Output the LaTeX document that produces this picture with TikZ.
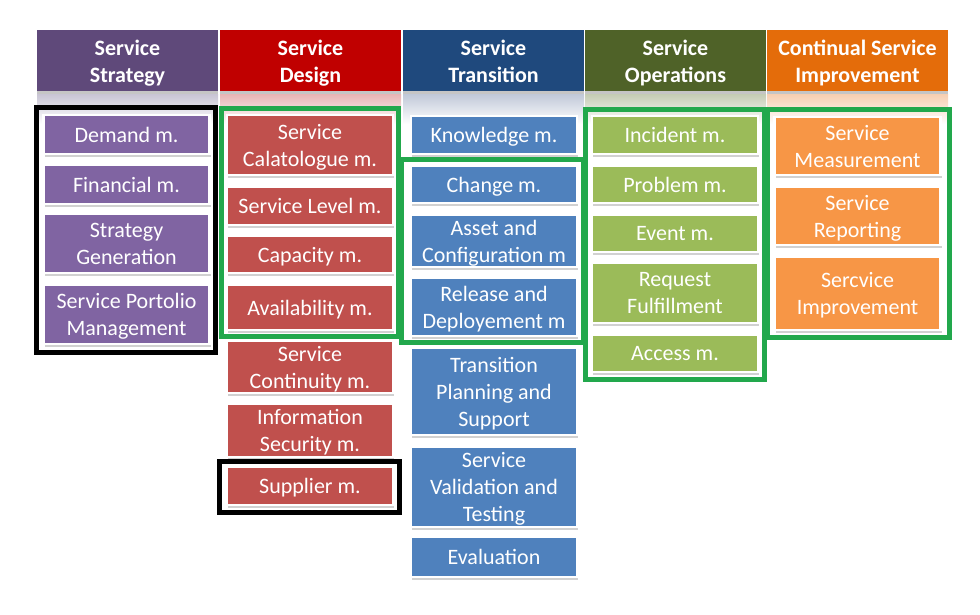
\documentclass[tikz,border=0pt]{standalone}
\usepackage{fontspec}
\setmainfont{Carlito}
\usetikzlibrary{shadows}
\definecolor{hS}{RGB}{95,73,122}
\definecolor{hD}{RGB}{192,0,0}
\definecolor{hT}{RGB}{31,73,125}
\definecolor{hO}{RGB}{79,98,40}
\definecolor{hC}{RGB}{228,108,10}
\definecolor{bS}{RGB}{128,100,162}
\definecolor{bD}{RGB}{192,80,77}
\definecolor{bT}{RGB}{79,129,189}
\definecolor{bO}{RGB}{155,187,89}
\definecolor{bC}{RGB}{247,150,70}
\definecolor{tS}{RGB}{200,196,212}
\definecolor{tD}{RGB}{232,180,180}
\definecolor{tT}{RGB}{192,200,216}
\definecolor{tO}{RGB}{196,204,180}
\definecolor{tC}{RGB}{246,206,176}
\definecolor{grn}{RGB}{34,168,76}
\tikzset{
  hdr/.style={fill=#1, draw=none, minimum width=181pt, minimum height=61pt, inner sep=0pt,
    text=white, align=center, font=\fontsize{22}{27}\selectfont\bfseries,
    drop shadow={shadow xshift=0pt, shadow yshift=-3pt, fill=black!45, opacity=0.5}},
  htxt/.style={text=white, align=center, font=\fontsize{22}{27}\selectfont\bfseries,
    inner sep=0pt, text depth=5pt},
  bx/.style={fill=#1, draw=white, line width=2.5pt, minimum width=166pt, inner sep=0pt,
    text=white, align=center, font=\fontsize{22}{27}\selectfont, text depth=0pt,
    drop shadow={shadow xshift=1pt, shadow yshift=-2.5pt, fill=black!40, opacity=0.45}},
  gframe/.style={draw=grn, line width=5pt},
  kframe/.style={draw=black, line width=5pt},
}
\begin{document}
\begin{tikzpicture}[x=1pt,y=-1pt]
\useasboundingbox (0,0) rectangle (980,614);
\fill[white] (0,0) rectangle (980,614);
% column tint bands
\foreach \xa/\c in {37/tS,220/tD,403/tT,585/tO,767/tC}{
  \shade[top color=\c, bottom color=white] (\xa,94) rectangle ++(181,30);
}
% headers
\node[hdr=hS] (hs) at (127.5,60.5) {};
\node[hdr=hD] (hd) at (310.5,60.5) {};
\node[hdr=hT] (ht) at (493.5,60.5) {};
\node[hdr=hO] (ho) at (675.5,60.5) {};
\node[hdr=hC] (hc) at (857.5,60.5) {};
\node[htxt] (hst) at ([yshift=-3.5pt]hs.center) {Service\\Strategy};
\node[htxt] (hdt) at ([yshift=-3.5pt]hd.center) {Service\\Design};
\node[htxt] (htt) at ([yshift=-3.5pt]ht.center) {Service\\Transition};
\node[htxt] (hot) at ([yshift=-3.5pt]ho.center) {Service\\Operations};
\node[htxt] (hct) at ([yshift=-3.5pt]hc.center) {Continual Service\\Improvement};
% strategy
\node[bx=bS, minimum height=39pt] (s1) at (126.5,134.5) {Demand m.};
\node[bx=bS, minimum height=39pt] (s2) at (126.5,184.5) {Financial m.};
\node[bx=bS, minimum height=59pt] (s3) at (126.5,243.5) {Strategy\\Generation};
\node[bx=bS, minimum height=59pt] (s4) at (126.5,314.5) {Service Portolio\\Management};
% design
\node[bx=bD, minimum height=60pt] (d1) at (310,145) {Service\\Calatologue m.};
\node[bx=bD, minimum height=38pt] (d2) at (310,206) {Service Level m.};
\node[bx=bD, minimum height=37pt] (d3) at (310,254.5) {Capacity m.};
\node[bx=bD, minimum height=45pt] (d4) at (310,307.5) {Availability m.};
\node[bx=bD, minimum height=52pt] (d5) at (310,367) {Service\\Continuity m.};
\node[bx=bD, minimum height=53pt] (d6) at (310,430.5) {Information\\Security m.};
\node[bx=bD, minimum height=38pt] (d7) at (310,486) {Supplier m.};
% transition
\node[bx=bT, minimum height=38pt] (t1) at (494,135) {Knowledge m.};
\node[bx=bT, minimum height=37pt] (t2) at (494,184.5) {Change m.};
\node[bx=bT, minimum height=52pt] (t3) at (494,241) {Asset and\\Configuration m};
\node[bx=bT, minimum height=58pt] (t4) at (494,307) {Release and\\Deployement m};
\node[bx=bT, minimum height=87pt] (t5) at (494,391.5) {Transition\\Planning and\\Support};
\node[bx=bT, minimum height=80pt] (t6) at (494,487) {Service\\Validation and\\Testing};
\node[bx=bT, minimum height=40pt] (t7) at (494,557) {Evaluation};
% operations
\node[bx=bO, minimum height=38pt] (o1) at (675,135) {Incident m.};
\node[bx=bO, minimum height=37pt] (o2) at (675,184.5) {Problem m.};
\node[bx=bO, minimum height=37pt] (o3) at (675,233.5) {Event m.};
\node[bx=bO, minimum height=60pt] (o4) at (675,293) {Request\\Fulfillment};
\node[bx=bO, minimum height=37pt] (o5) at (675,353.5) {Access m.};
% CSI
\node[bx=bC, minimum height=58pt] (c1) at (857.5,146) {Service\\Measurement};
\node[bx=bC, minimum height=58pt] (c2) at (857.5,216) {Service\\Reporting};
\node[bx=bC, minimum height=73pt] (c3) at (857.5,293.5) {Sercvice\\Improvement};
% frames
\draw[kframe] (36,107.5) rectangle (215.5,352);
\draw[gframe] (221.5,108.5) rectangle (398.5,336.5);
\draw[gframe] (401.5,159.5) rectangle (583.5,342.5);
\draw[gframe] (585.5,109.5) rectangle (764.5,379.5);
\draw[gframe] (767.5,109.5) rectangle (949.5,337.5);
\draw[kframe] (219.5,461.5) rectangle (399.5,512.5);
\end{tikzpicture}
\end{document}
